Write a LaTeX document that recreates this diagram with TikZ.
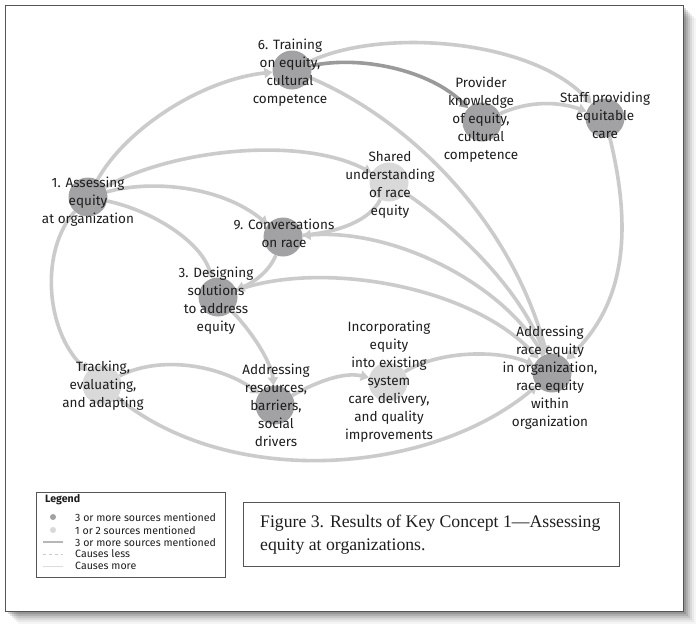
\documentclass[tikz,border=0pt]{standalone}
\usepackage{fontspec}
\setmainfont{Fira Sans}
\newfontfamily\capfont{Liberation Serif}
\usetikzlibrary{arrows.meta}
\definecolor{edgecol}{HTML}{CBCBCB}
\definecolor{darkedge}{HTML}{9A9A9A}
\definecolor{darknode}{HTML}{A2A2A5}
\definecolor{lightnode}{HTML}{D9D9D9}
\definecolor{txt}{HTML}{1E1E1E}
\definecolor{framecol}{HTML}{555555}
\pgfdeclarelayer{bg}
\pgfdeclarelayer{edges}
\pgfsetlayers{bg,edges,main}
\begin{document}
\begin{tikzpicture}[x=1pt,y=-1pt,
  hub/.style={circle,minimum size=39pt,inner sep=0,fill=darknode},
  minor/.style={circle,minimum size=39pt,inner sep=0,fill=lightnode},
  lbl/.style={align=center,inner sep=0,anchor=north,text=txt,font=\fontsize{13.5}{18}\selectfont},
  edge/.style={draw=edgecol,line width=3.6pt,-{Triangle[length=8pt,width=10pt]}},
  plainedge/.style={draw=edgecol,line width=3.6pt},
  legtext/.style={anchor=west,inner sep=0,text=txt,font=\fontsize{10.6}{12}\selectfont},
]
\useasboundingbox (0,0) rectangle (700,625);
% frame with shadow
\begin{pgfonlayer}{bg}
\foreach \d/\op in {13/0.04,11/0.05,9/0.07,7/0.09,5/0.11,3/0.14}{
  \fill[black,opacity=\op] (5+\d,5+\d) rectangle (683+\d,611+\d);
}
\fill[white] (5,5) rectangle (683,611);
\draw[framecol,line width=1pt] (5,5) rectangle (683,611);
\end{pgfonlayer}

% circles
\node[hub]   (c6)   at (292,70)  {};
\node[hub]   (cP)   at (482,122) {};
\node[hub]   (cS)   at (605,118) {};
\node[hub]   (c1)   at (88,197)  {};
\node[minor] (cSh)  at (389,182) {};
\node[hub]   (c9)   at (283,237) {};
\node[hub]   (c3)   at (218,297) {};
\node[minor] (cT)   at (102,385) {};
\node[hub]   (cRes) at (275,405) {};
\node[minor] (cInc) at (388,382) {};
\node[hub]   (cR)   at (552,373) {};

% labels
\node[lbl] (t6)   at (290,39)  {6. Training\\on equity,\\cultural\\competence};
\node[lbl] (tP)   at (481,77)  {Provider\\knowledge\\of equity,\\cultural\\competence};
\node[lbl] (tS)   at (605,92)  {Staff providing\\equitable\\care};
\node[lbl] (t1)   at (88,177)  {1. Assessing\\equity\\at organization};
\node[lbl] (tSh)  at (390,151) {Shared\\understanding\\of race\\equity};
\node[lbl] (t9)   at (284,219) {9. Conversations\\on race};
\node[lbl] (t3)   at (216,267) {3. Designing\\solutions\\to address\\equity};
\node[lbl] (tT)   at (103,361) {Tracking,\\evaluating,\\and adapting};
\node[lbl] (tRes) at (276,364) {Addressing\\resources,\\barriers,\\social\\drivers};
\node[lbl] (tInc) at (389,321) {Incorporating\\equity\\into existing\\system\\care delivery,\\and quality\\improvements};
\node[lbl] (tR)   at (550,326) {Addressing\\race equity\\in organization,\\race equity\\within\\organization};

% edges
\begin{pgfonlayer}{edges}
\draw[edge] (c1) .. controls (125,130) and (200,80) .. (c6);
\draw[edge] (c1) .. controls (170,150) and (300,135) .. (cSh);
\draw[edge] (c1) .. controls (150,180) and (220,185) .. (c9);
\draw[edge] (c1) .. controls (150,210) and (200,240) .. (c3);
\draw[edge] (c1) .. controls (40,250) and (45,330) .. (cT);
\draw[edge,draw=darkedge] (c6) .. controls (360,55) and (430,70) .. (cP);
\draw[edge] (c6) .. controls (380,28) and (530,38) .. (cS);
\draw[edge] (c6) .. controls (410,120) and (510,220) .. (cR);
\draw[edge] (cP) .. controls (530,100) and (560,102) .. (cS);
\draw[edge] (cSh) .. controls (460,230) and (520,290) .. (cR);
\draw[plainedge] (cSh) .. controls (370,220) and (340,232) .. (c9);
\draw[edge] (cR) .. controls (510,290) and (400,228) .. (c9);
\draw[edge] (c9) .. controls (270,270) and (255,282) .. (c3);
\draw[edge] (c3) .. controls (320,260) and (470,285) .. (cR);
\draw[edge] (c3) .. controls (255,335) and (272,365) .. (cRes);
\draw[edge] (cT) .. controls (160,355) and (220,365) .. (cRes);
\draw[edge] (cT) .. controls (230,490) and (430,475) .. (cR);
\draw[edge] (cRes) .. controls (320,380) and (345,372) .. (cInc);
\draw[edge] (cInc) .. controls (440,350) and (500,350) .. (cR);
\draw[edge] (cS) .. controls (630,220) and (630,300) .. (cR);
\end{pgfonlayer}

% legend
\node[draw=framecol,line width=0.8pt,minimum width=189pt,minimum height=85pt,inner sep=0,anchor=north west] (legbox) at (36,492) {};
\node[anchor=west,inner sep=0,text=txt,font=\fontsize{10.6}{12}\selectfont\bfseries] (legtitle) at (45,500) {Legend};
\node[circle,fill=darknode,minimum size=6pt,inner sep=0] (ld1) at (53,517) {};
\node[circle,fill=lightnode,minimum size=6pt,inner sep=0] (ld2) at (53,530) {};
\coordinate (ll1a) at (43,542); \coordinate (ll1b) at (63,542);
\coordinate (ll2a) at (43,554); \coordinate (ll2b) at (63,554);
\coordinate (ll3a) at (43,566); \coordinate (ll3b) at (63,566);
\draw[edgecol!90!black,line width=1.6pt] (ll1a) -- (ll1b);
\draw[edgecol,line width=0.6pt,dashed] (ll2a) -- (ll2b);
\draw[edgecol!70,line width=0.6pt] (ll3a) -- (ll3b);
\node[legtext] (lt1) at (75,517) {3 or more sources mentioned};
\node[legtext] (lt2) at (75,530) {1 or 2 sources mentioned};
\node[legtext] (lt3) at (75,542) {3 or more sources mentioned};
\node[legtext] (lt4) at (75,554) {Causes less};
\node[legtext] (lt5) at (75,566) {Causes more};

% caption
\node[draw=framecol,line width=1pt,minimum width=376pt,minimum height=64pt,inner sep=0,anchor=north west] (capbox) at (243,502) {};
\node[anchor=base west,inner sep=0,text=txt,font=\capfont\fontsize{17.7}{23}\selectfont] (cap1) at (260,527) {Figure 3. Results of Key Concept 1—Assessing};
\node[anchor=base west,inner sep=0,text=txt,font=\capfont\fontsize{17.7}{23}\selectfont] (cap2) at (260,550) {equity at organizations.};
\end{tikzpicture}
\end{document}
